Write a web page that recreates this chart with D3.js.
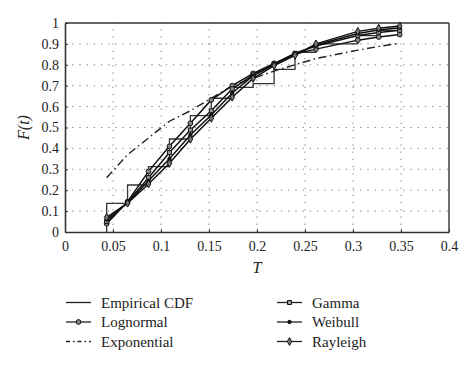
<!DOCTYPE html>
<html lang="en">
<head>
  <meta charset="UTF-8">
  <title>CDF fits</title>
  <script src="https://d3js.org/d3.v7.min.js"></script>
  <style>
    body { margin: 0; background: #fff; }
    text { font-family: "Liberation Serif", "DejaVu Serif", serif; fill: #222; }
    .axis path, .axis line { fill: none; stroke: #333; }
    .axis text { font-size: 14px; }
    .grid line { stroke: #777; stroke-width: 1; stroke-dasharray: 1.2,6; }
    .legend text { font-size: 15px; }
  </style>
</head>
<body>
<svg id="chart" width="474" height="368"></svg>
<script>
  // data
  let times = [0.0434, 0.0652, 0.087, 0.1088, 0.1306, 0.1524, 0.1742, 0.196, 0.2178, 0.2396, 0.2614, 0.305, 0.3268, 0.3486];
  let empirical = [0.137, 0.225, 0.313, 0.445, 0.557, 0.64, 0.692, 0.71, 0.778, 0.86, 0.9, 0.94, 0.965, 0.98];
  let lognormal = [0.04, 0.145, 0.29, 0.41, 0.52, 0.632, 0.70, 0.759, 0.807, 0.852, 0.875, 0.918, 0.933, 0.945];
  let exponential = [0.26, 0.37, 0.45, 0.53, 0.58, 0.64, 0.70, 0.735, 0.77, 0.80, 0.83, 0.87, 0.888, 0.903];
  let gamma = [0.05, 0.142, 0.26, 0.38, 0.488, 0.58, 0.685, 0.752, 0.803, 0.855, 0.89, 0.94, 0.955, 0.965];
  let weibull = [0.06, 0.14, 0.245, 0.35, 0.464, 0.56, 0.665, 0.748, 0.80, 0.85, 0.895, 0.95, 0.967, 0.977];
  let rayleigh = [0.07, 0.138, 0.23, 0.329, 0.444, 0.544, 0.645, 0.735, 0.796, 0.845, 0.9, 0.96, 0.975, 0.986];

  let xTicks = [0, 0.05, 0.1, 0.15, 0.2, 0.25, 0.3, 0.35, 0.4];
  let yTicks = [0, 0.1, 0.2, 0.3, 0.4, 0.5, 0.6, 0.7, 0.8, 0.9, 1];

  let svg = d3.select("#chart");

  let plotLeft = 65, plotRight = 449, plotTop = 23, plotBottom = 232;

  let x = d3.scaleLinear().domain([0, 0.4]).range([plotLeft, plotRight]);
  let y = d3.scaleLinear().domain([0, 1]).range([plotBottom, plotTop]);

  // grid
  let grid = svg.append("g").attr("class", "grid");
  grid.selectAll(".gx")
      .data(xTicks.slice(1, -1))
      .enter().append("line")
      .attr("x1", d => x(d)).attr("x2", d => x(d))
      .attr("y1", plotBottom).attr("y2", plotTop);
  grid.selectAll(".gy")
      .data(yTicks.slice(1, -1))
      .enter().append("line")
      .attr("x1", plotLeft).attr("x2", plotRight)
      .attr("y1", d => y(d)).attr("y2", d => y(d));

  // axes
  let fmt = d3.format("~g");
  svg.append("g")
      .attr("class", "axis")
      .attr("transform", "translate(0," + plotBottom + ")")
      .call(d3.axisBottom(x).tickValues(xTicks).tickFormat(fmt).tickSizeInner(-3).tickSizeOuter(0).tickPadding(9))
      .call(g => g.select(".domain").attr("stroke-width", 1.6));
  svg.append("g")
      .attr("class", "axis")
      .attr("transform", "translate(" + plotLeft + ",0)")
      .call(d3.axisLeft(y).tickValues(yTicks).tickFormat(fmt).tickSizeInner(-3).tickSizeOuter(0).tickPadding(6))
      .call(g => g.select(".domain").attr("stroke-width", 1.6));
  // top and right frame
  svg.append("line").attr("x1", plotLeft).attr("x2", plotRight).attr("y1", plotTop).attr("y2", plotTop)
      .attr("stroke", "#333").attr("stroke-width", 1.4);
  svg.append("line").attr("x1", plotRight).attr("x2", plotRight).attr("y1", plotTop).attr("y2", plotBottom)
      .attr("stroke", "#333").attr("stroke-width", 1.4);

  // axis titles
  svg.append("text")
      .attr("x", x(0.2)).attr("y", 273)
      .attr("text-anchor", "middle")
      .style("font-style", "italic").style("font-size", "16px")
      .text("T");
  svg.append("text")
      .attr("transform", "translate(29," + y(0.5) + ") rotate(-90)")
      .attr("text-anchor", "middle")
      .style("font-style", "italic").style("font-size", "16px")
      .text("F(t)");

  let pts = vals => vals.map((v, i) => [times[i], v]);
  let line = d3.line().x(d => x(d[0])).y(d => y(d[1]));

  // empirical CDF as steps rising at each time
  let ecdf = [[times[0], 0]].concat(pts(empirical));
  svg.append("path")
      .attr("d", d3.line().x(d => x(d[0])).y(d => y(d[1])).curve(d3.curveStepAfter)(ecdf))
      .attr("fill", "none").attr("stroke", "#333").attr("stroke-width", 1.3);

  // exponential dash-dot
  svg.append("path")
      .attr("d", line(pts(exponential)))
      .attr("fill", "none").attr("stroke", "#222").attr("stroke-width", 1.4)
      .attr("stroke-dasharray", "8,3.5,1.5,3.5");

  let symbols = {
    circle: d3.symbol().type(d3.symbolCircle).size(18),
    square: d3.symbol().type(d3.symbolSquare).size(16),
    dot: d3.symbol().type(d3.symbolCircle).size(9),
    diamond: d3.symbol().type(d3.symbolDiamond).size(18)
  };

  let fitted = [
    {name: "Lognormal", values: lognormal, sym: "circle", fill: "#888"},
    {name: "Gamma", values: gamma, sym: "square", fill: "#999"},
    {name: "Weibull", values: weibull, sym: "dot", fill: "#111"},
    {name: "Rayleigh", values: rayleigh, sym: "diamond", fill: "#777"}
  ];

  fitted.forEach(s => {
    svg.append("path")
        .attr("d", line(pts(s.values)))
        .attr("fill", "none").attr("stroke", "#111").attr("stroke-width", 1.5);
    svg.append("g").selectAll("path")
        .data(pts(s.values))
        .enter().append("path")
        .attr("transform", d => "translate(" + x(d[0]) + "," + y(d[1]) + ")")
        .attr("d", symbols[s.sym]())
        .attr("fill", s.fill).attr("stroke", "#111").attr("stroke-width", 1);
  });

  // legend
  let legendItems = [
    {name: "Empirical CDF", col: 0, row: 0, dash: null, sym: null},
    {name: "Lognormal", col: 0, row: 1, dash: null, sym: "circle", fill: "#888"},
    {name: "Exponential", col: 0, row: 2, dash: "4,3,1.5,3", sym: null},
    {name: "Gamma", col: 1, row: 0, dash: null, sym: "square", fill: "#999"},
    {name: "Weibull", col: 1, row: 1, dash: null, sym: "dot", fill: "#111"},
    {name: "Rayleigh", col: 1, row: 2, dash: null, sym: "diamond", fill: "#777"}
  ];
  let colX = [66, 277], rowY = [302.5, 322, 341.5];
  let legend = svg.append("g").attr("class", "legend");
  legendItems.forEach(d => {
    let lx = colX[d.col], ly = rowY[d.row];
    legend.append("line")
        .attr("x1", lx).attr("x2", lx + 25).attr("y1", ly).attr("y2", ly)
        .attr("stroke", "#222").attr("stroke-width", 1.3)
        .attr("stroke-dasharray", d.dash);
    if (d.sym) {
      legend.append("path")
          .attr("transform", "translate(" + (lx + 12.5) + "," + ly + ")")
          .attr("d", symbols[d.sym]())
          .attr("fill", d.fill).attr("stroke", "#111");
    }
    legend.append("text")
        .attr("x", lx + 35).attr("y", ly + 5)
        .text(d.name);
  });
</script>
</body>
</html>
